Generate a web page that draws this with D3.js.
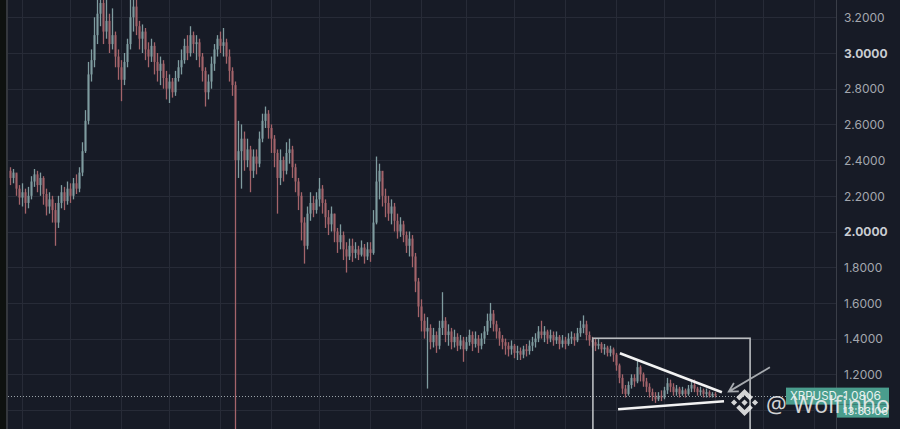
<!DOCTYPE html>
<html><head><meta charset="utf-8">
<script src="https://cdn.jsdelivr.net/npm/d3@7"></script>
<style>html,body{margin:0;padding:0;background:#171b26;overflow:hidden}</style>
</head><body>
<svg id="c" width="900" height="429"></svg>
<script>
// ---- data ----
const symbol = "XRPUSD";
const lastPrice = 1.0806;
const countdown = "13:33:06";
const firstOpen = 2.34;
const closes = [
2.30,2.33,2.24,2.19,2.22,2.16,2.20,2.28,2.32,2.26,
2.30,2.21,2.14,2.18,2.12,2.05,2.16,2.22,2.17,2.24,
2.20,2.27,2.24,2.33,2.45,2.62,2.88,2.96,3.10,3.22,
3.28,3.12,3.18,3.05,3.10,2.98,2.92,2.85,2.95,3.05,
3.20,3.26,3.15,3.08,3.12,3.02,2.98,3.04,2.95,2.90,
2.94,2.86,2.80,2.84,2.78,2.86,2.92,2.96,3.04,3.00,
3.10,3.05,3.06,2.98,2.90,2.78,2.84,2.94,3.02,3.08,
3.04,3.06,2.98,2.90,2.82,2.40,2.45,2.52,2.40,2.46,
2.34,2.42,2.38,2.52,2.62,2.66,2.58,2.52,2.44,2.30,
2.40,2.34,2.44,2.46,2.36,2.28,2.20,2.05,1.92,2.10,
2.16,2.12,2.18,2.24,2.16,2.08,2.04,2.10,2.00,1.94,
1.98,1.90,1.86,1.92,1.88,1.90,1.87,1.91,1.86,1.90,
1.88,2.05,2.28,2.34,2.20,2.16,2.10,2.14,2.06,2.00,
2.04,1.98,1.92,1.96,1.86,1.72,1.58,1.50,1.44,1.46,
1.38,1.42,1.36,1.46,1.50,1.42,1.44,1.38,1.41,1.36,
1.39,1.34,1.38,1.42,1.37,1.40,1.36,1.40,1.44,1.50,
1.54,1.48,1.44,1.40,1.38,1.36,1.34,1.36,1.32,1.33,
1.31,1.34,1.33,1.36,1.38,1.40,1.44,1.42,1.44,1.40,
1.42,1.39,1.41,1.37,1.39,1.37,1.40,1.41,1.39,1.43,
1.46,1.48,1.42,1.39,1.38,1.36,1.37,1.34,1.35,1.32,
1.34,1.31,1.25,1.18,1.12,1.09,1.14,1.18,1.16,1.24,
1.20,1.16,1.13,1.10,1.08,1.06,1.08,1.07,1.11,1.15,
1.13,1.10,1.12,1.09,1.11,1.09,1.12,1.14,1.12,1.10,
1.11,1.09,1.10,1.08,1.09,1.0806];
const highs = [
2.36,2.35,2.32,2.26,2.27,2.24,2.25,2.31,2.35,2.34,
2.33,2.31,2.24,2.22,2.20,2.16,2.20,2.26,2.25,2.28,
2.27,2.30,2.32,2.36,2.50,2.68,2.95,3.02,3.20,3.30,
3.32,3.30,3.30,3.22,3.25,3.12,3.02,2.96,3.00,3.08,
3.30,3.32,3.30,3.18,3.16,3.14,3.06,3.08,3.06,3.00,
2.98,2.96,2.90,2.88,2.86,2.90,2.96,3.02,3.08,3.10,
3.15,3.12,3.10,3.08,3.00,2.92,2.88,2.98,3.05,3.10,
3.12,3.14,3.08,3.02,2.92,2.84,2.62,2.60,2.56,2.52,
2.48,2.46,2.46,2.56,2.66,2.70,2.68,2.60,2.54,2.46,
2.46,2.42,2.50,2.52,2.48,2.38,2.30,2.22,2.08,2.14,
2.22,2.20,2.22,2.30,2.26,2.18,2.12,2.14,2.10,2.02,
2.04,2.00,1.94,1.96,1.96,1.94,1.92,1.95,1.93,1.94,
1.94,2.12,2.42,2.38,2.30,2.24,2.20,2.18,2.16,2.10,
2.08,2.06,2.00,2.00,1.98,1.88,1.74,1.62,1.54,1.52,
1.48,1.46,1.44,1.50,1.66,1.52,1.48,1.46,1.45,1.43,
1.42,1.41,1.41,1.45,1.44,1.44,1.42,1.43,1.47,1.54,
1.60,1.56,1.50,1.46,1.42,1.40,1.38,1.39,1.37,1.36,
1.35,1.36,1.37,1.39,1.41,1.43,1.47,1.50,1.47,1.45,
1.45,1.44,1.44,1.42,1.42,1.41,1.43,1.44,1.43,1.46,
1.50,1.53,1.50,1.44,1.41,1.40,1.40,1.38,1.37,1.36,
1.36,1.35,1.32,1.26,1.20,1.14,1.16,1.20,1.20,1.28,
1.25,1.21,1.18,1.15,1.12,1.10,1.10,1.11,1.13,1.18,
1.17,1.15,1.14,1.13,1.13,1.12,1.14,1.16,1.17,1.13,
1.13,1.12,1.12,1.11,1.10,1.10];
const lows = [
2.26,2.27,2.20,2.15,2.14,2.10,2.13,2.18,2.25,2.22,
2.20,2.15,2.09,2.10,2.05,1.92,2.02,2.13,2.12,2.15,
2.16,2.18,2.21,2.22,2.31,2.44,2.60,2.84,2.92,3.05,
3.15,3.05,3.08,3.00,3.02,2.92,2.85,2.73,2.82,2.92,
3.02,3.12,3.10,3.02,3.00,2.96,2.92,2.95,2.88,2.84,
2.82,2.80,2.74,2.72,2.75,2.76,2.84,2.88,2.94,2.96,
2.98,3.00,2.96,2.92,2.84,2.70,2.74,2.80,2.90,2.98,
3.00,2.98,2.94,2.84,2.76,0.60,2.30,2.24,2.34,2.36,
2.22,2.30,2.32,2.36,2.50,2.58,2.52,2.44,2.36,2.10,
2.26,2.28,2.32,2.38,2.30,2.22,2.12,1.95,1.82,1.90,
2.06,2.08,2.10,2.14,2.10,2.02,1.98,2.00,1.94,1.88,
1.90,1.84,1.77,1.84,1.83,1.85,1.84,1.86,1.82,1.84,
1.83,1.87,2.04,2.18,2.14,2.08,2.06,2.04,2.00,1.96,
1.97,1.94,1.88,1.86,1.80,1.66,1.52,1.44,1.40,1.12,
1.34,1.35,1.32,1.34,1.42,1.38,1.36,1.34,1.35,1.33,
1.34,1.27,1.33,1.36,1.33,1.35,1.32,1.34,1.37,1.42,
1.46,1.44,1.40,1.36,1.34,1.31,1.30,1.31,1.29,1.28,
1.28,1.29,1.30,1.31,1.33,1.35,1.38,1.40,1.38,1.37,
1.38,1.36,1.37,1.34,1.35,1.34,1.36,1.37,1.36,1.38,
1.41,1.43,1.39,1.36,1.35,1.33,1.34,1.32,1.31,1.30,
1.30,1.27,1.22,1.15,1.09,1.07,1.08,1.12,1.13,1.15,
1.16,1.13,1.10,1.07,1.05,1.04,1.05,1.05,1.06,1.09,
1.10,1.08,1.08,1.07,1.08,1.07,1.08,1.10,1.10,1.08,
1.08,1.07,1.07,1.07,1.07,1.07];
const priceTicks = [1.0,1.2,1.4,1.6,1.8,2.0,2.2,2.4,2.6,2.8,3.0,3.2];
const boldTicks = [2.0,3.0];
const timeGridIdx = [4,20,37,53,70,87,103,120,137,152,168,185,202,218,235,251,268];
// drawings (candle index, price)
const wedgeUpper = [[203.3,1.318],[237.3,1.099]];
const wedgeLower = [[202.7,1.004],[238.0,1.049]];
const boxRect = {i0:194.3, i1:246.7, p0:1.402, p1:0.80};
const arrow = [[253.3,1.239],[239.6,1.103]];
const watermark = "@ Wolfinho";

// ---- build ----
const W=900,H=429, plotL=8, plotR=836;
const svg = d3.select("#c");
const x = d3.scaleLinear().domain([0,235]).range([10,715]);
const y = d3.scaleLinear().domain([1.0,3.2]).range([410,17.3]);

svg.append("rect").attr("width",W).attr("height",H).attr("fill","#171b26");

const candles = closes.map((c,i)=>({i, o: i===0?firstOpen:closes[i-1], c, h:highs[i], l:lows[i]}));

// grid
const grid = svg.append("g");
grid.selectAll("line.h").data(priceTicks).join("line")
  .attr("x1",plotL).attr("x2",plotR)
  .attr("y1",d=>Math.round(y(d))+0.5).attr("y2",d=>Math.round(y(d))+0.5)
  .attr("stroke","#272b37").attr("stroke-width",1);
grid.selectAll("line.v").data(timeGridIdx).join("line")
  .attr("x1",d=>Math.round(x(d))+0.5).attr("x2",d=>Math.round(x(d))+0.5)
  .attr("y1",0).attr("y2",H)
  .attr("stroke","#272b37").attr("stroke-width",1);

// clip
svg.append("clipPath").attr("id","pc").append("rect")
  .attr("x",plotL).attr("y",0).attr("width",plotR-plotL).attr("height",H);
const plot = svg.append("g").attr("clip-path","url(#pc)");

const upC="#7f9c9f", dnC="#a4646a";
const cg = plot.append("g");
cg.selectAll("line.w").data(candles).join("line")
  .attr("x1",d=>Math.round(x(d.i))+0.5).attr("x2",d=>Math.round(x(d.i))+0.5)
  .attr("y1",d=>y(d.h)).attr("y2",d=>y(d.l))
  .attr("stroke",d=>d.c>=d.o?upC:dnC).attr("stroke-width",1.3);
cg.selectAll("rect.b").data(candles).join("rect")
  .attr("x",d=>Math.round(x(d.i))-0.5).attr("width",2)
  .attr("y",d=>y(Math.max(d.o,d.c)))
  .attr("height",d=>Math.max(1,Math.abs(y(d.o)-y(d.c))))
  .attr("fill",d=>d.c>=d.o?upC:dnC);

// last price dotted line
plot.append("line").attr("x1",plotL).attr("x2",plotR)
  .attr("y1",Math.round(y(lastPrice))+0.5).attr("y2",Math.round(y(lastPrice))+0.5)
  .attr("stroke","#9aa3a8").attr("stroke-width",1).attr("stroke-dasharray","1,2");

// drawings
const line = d3.line().x(d=>x(d[0])).y(d=>y(d[1]));
plot.append("rect")
  .attr("x",x(boxRect.i0)).attr("y",y(boxRect.p0))
  .attr("width",x(boxRect.i1)-x(boxRect.i0)).attr("height",y(boxRect.p1)-y(boxRect.p0))
  .attr("fill","none").attr("stroke","#b9bcbf").attr("stroke-width",1.6);
plot.append("path").attr("d",line(wedgeUpper)).attr("stroke","#f2f2f2").attr("stroke-width",2.6).attr("fill","none");
plot.append("path").attr("d",line(wedgeLower)).attr("stroke","#f2f2f2").attr("stroke-width",2.6).attr("fill","none");
// arrow
const ax0=x(arrow[0][0]), ay0=y(arrow[0][1]), ax1=x(arrow[1][0]), ay1=y(arrow[1][1]);
const ang=Math.atan2(ay0-ay1, ax0-ax1);
const hl=10, ha=0.5;
svg.append("path")
  .attr("d",`M${ax0},${ay0}L${ax1},${ay1}M${ax1+hl*Math.cos(ang+ha)},${ay1+hl*Math.sin(ang+ha)}L${ax1},${ay1}L${ax1+hl*Math.cos(ang-ha)},${ay1+hl*Math.sin(ang-ha)}`)
  .attr("stroke","#a7abb0").attr("stroke-width",1.8).attr("fill","none");

// left strip
svg.append("rect").attr("x",0).attr("y",0).attr("width",6).attr("height",H).attr("fill","#0e110f");
svg.append("rect").attr("x",6).attr("y",0).attr("width",2).attr("height",H).attr("fill","#34373d");

// price axis
svg.append("line").attr("x1",plotR+0.5).attr("x2",plotR+0.5).attr("y1",0).attr("y2",H)
  .attr("stroke","#3a3e48").attr("stroke-width",1);
const axis = d3.axisRight(y).tickValues(priceTicks).tickFormat(d=>d.toFixed(4)).tickSize(0).tickPadding(0);
const ag = svg.append("g").attr("transform",`translate(844,0)`).call(axis);
ag.select(".domain").remove();
ag.selectAll("text")
  .attr("fill",d=>boldTicks.includes(d)?"#c9ccd2":"#a3a7ae")
  .attr("font-family","Inter, 'Noto Sans', sans-serif")
  .attr("font-size","12px")
  .attr("font-weight",d=>boldTicks.includes(d)?700:400)
  .attr("dy","0.35em");

// price label
const py = y(lastPrice);
svg.append("rect").attr("x",786).attr("y",py-8).attr("width",103).attr("height",17).attr("fill","#4a9d8d");
svg.append("rect").attr("x",837).attr("y",py+9).attr("width",52).attr("height",13).attr("fill","#4a9d8d");
svg.append("text").attr("x",790).attr("y",py+4.5).text(symbol)
  .attr("fill","#e6f2ef").attr("font-family","Inter, sans-serif").attr("font-size","11.5px");
svg.append("text").attr("x",843).attr("y",py+4.5).text(lastPrice.toFixed(4))
  .attr("fill","#e6f2ef").attr("font-family","Inter, sans-serif").attr("font-size","12px");
svg.append("text").attr("x",843).attr("y",py+19.5).text(countdown)
  .attr("fill","#e6f2ef").attr("font-family","Inter, sans-serif").attr("font-size","11px");

// watermark
const wm = svg.append("g").attr("opacity",0.88);
wm.append("path")
  .attr("transform","translate(731,389) scale(0.215)")
  .attr("d","M38.5 53L63 28.5 87.5 53l14.3-14.3L63 0 24.2 38.7z M0 63l14.3-14.3L28.6 63 14.3 77.3z M38.5 73L63 97.5 87.5 73l14.3 14.3L63 126 24.2 87.3z M97.4 63l14.3-14.3L126 63l-14.3 14.3z M77.5 63L63 48.5 48.6 63 63 77.4z")
  .attr("fill","#eeeeee");
wm.append("text").attr("x",766).attr("y",413).text(watermark)
  .attr("textLength",124).attr("lengthAdjust","spacingAndGlyphs")
  .attr("fill","#eeeeee").attr("font-family","'Open Sans', 'Noto Sans', sans-serif").attr("font-size","24px");
</script>
</body></html>
